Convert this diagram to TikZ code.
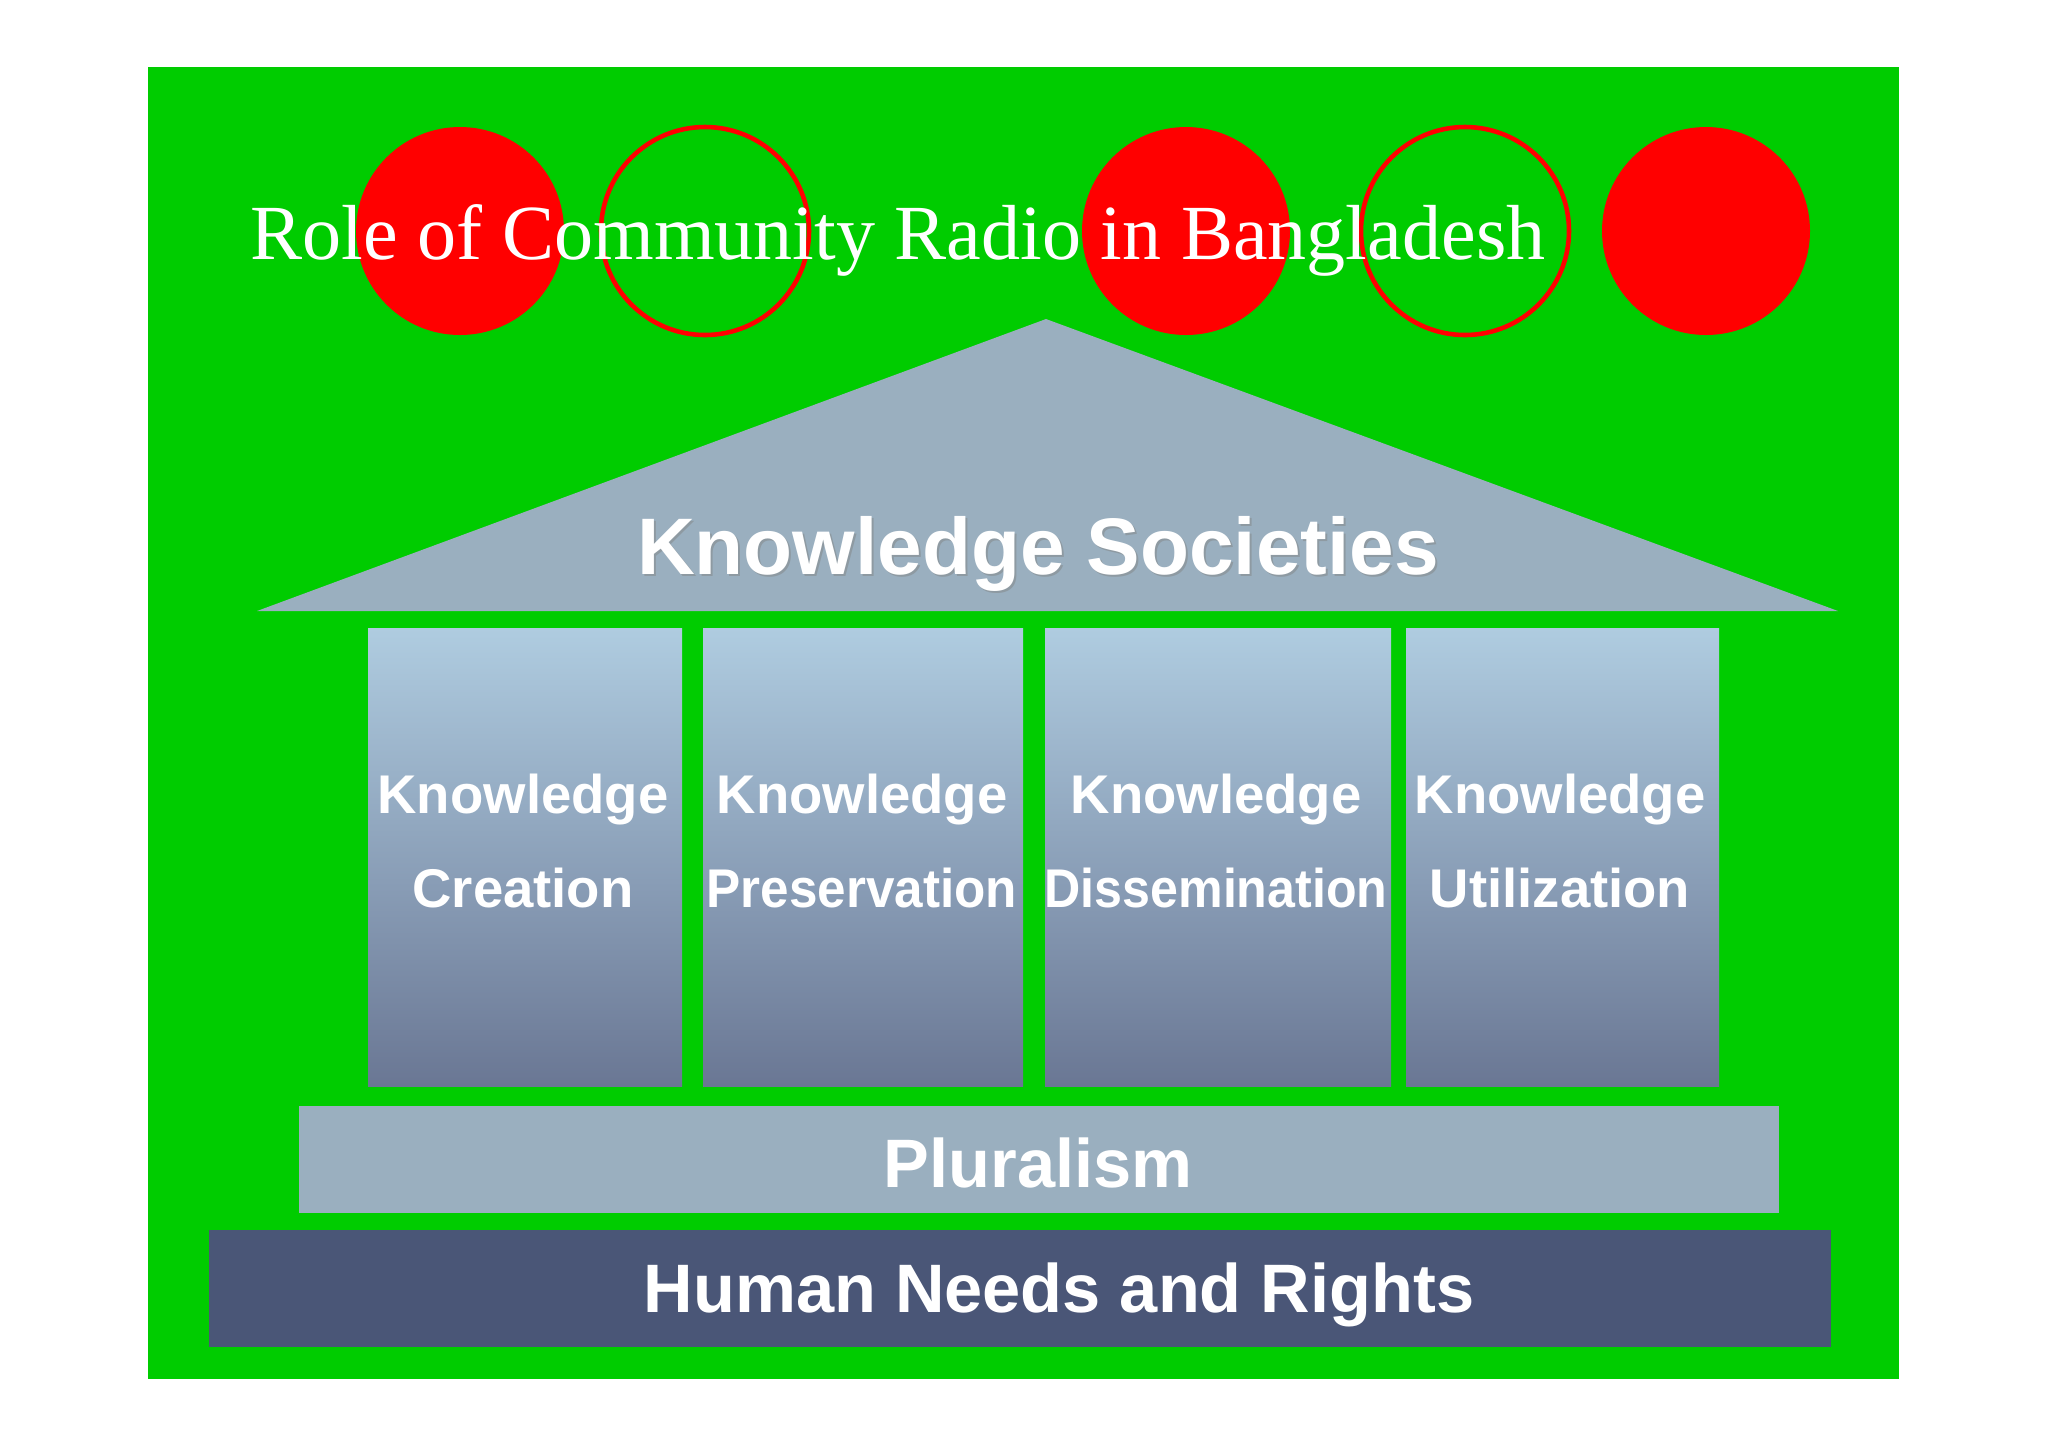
\documentclass[tikz,border=0pt]{standalone}
\usepackage{graphicx}
\usepackage{fontspec}
\setmainfont{Liberation Serif}
\setsansfont{Liberation Sans}
\definecolor{slidegreen}{HTML}{00CC00}
\definecolor{roofgray}{HTML}{9AAFBF}
\definecolor{pillartop}{HTML}{AFCCE0}
\definecolor{pillarbot}{HTML}{6A7794}
\definecolor{basenavy}{HTML}{4A5677}
\begin{document}
\begin{tikzpicture}[x=0.01cm, y=-0.01cm,
    pillar/.style={top color=pillartop, bottom color=pillarbot},
    pillartext/.style={text=white, align=center, font=\sffamily\bfseries\fontsize{15.5}{26.7}\selectfont},
    bartext/.style={text=white, font=\sffamily\bfseries\fontsize{19.5}{23}\selectfont}]
    \useasboundingbox (0,0) rectangle (2048,1447);
    \fill[white] (0,0) rectangle (2048,1447);
    \fill[slidegreen] (148,67) rectangle (1899,1379);
    % circles behind the title
    \fill[red] (460,231) circle (104);
    \draw[red, line width=1.3pt] (705,231) circle (104);
    \fill[red] (1186,231) circle (104);
    \draw[red, line width=1.3pt] (1465,231) circle (104);
    \fill[red] (1706,231) circle (104);
    \node[anchor=base, text=white, font=\fontsize{22.2}{26}\selectfont] (title) at (898,259) {Role of Community Radio in Bangladesh};
    % roof
    \fill[roofgray] (1046,319) -- (1838,611) -- (257,611) -- cycle;
    \node[text=gray!45!roofgray, font=\sffamily\bfseries\fontsize{22.8}{26}\selectfont] at (1040,556) {Knowledge Societies};
    \node[text=white, font=\sffamily\bfseries\fontsize{22.8}{26}\selectfont] (roof) at (1038,554) {Knowledge Societies};
    % pillars
    \shade[pillar] (368,628) rectangle (682,1086);
    \shade[pillar] (703,628) rectangle (1023,1086);
    \shade[pillar] (1045,628) rectangle (1391,1086);
    \shade[pillar] (1406,628) rectangle (1719,1086);
    \node[pillartext] (creation) at (523,841) {Knowledge\\Creation};
    \node[pillartext] (preserve) at (862,841) {Knowledge\\\scalebox{0.94}[1]{Preservation}};
    \node[pillartext] (dissem) at (1216,841) {Knowledge\\\scalebox{0.92}[1]{Dissemination}};
    \node[pillartext] (utilize) at (1560,841) {Knowledge\\Utilization};
    % base
    \fill[roofgray] (299,1106) rectangle (1779,1213);
    \node[bartext] (plural) at (1038,1163) {Pluralism};
    \fill[basenavy] (209,1230) rectangle (1831,1347);
    \node[bartext] (rights) at (1059,1295) {Human Needs and Rights};
\end{tikzpicture}
\end{document}
